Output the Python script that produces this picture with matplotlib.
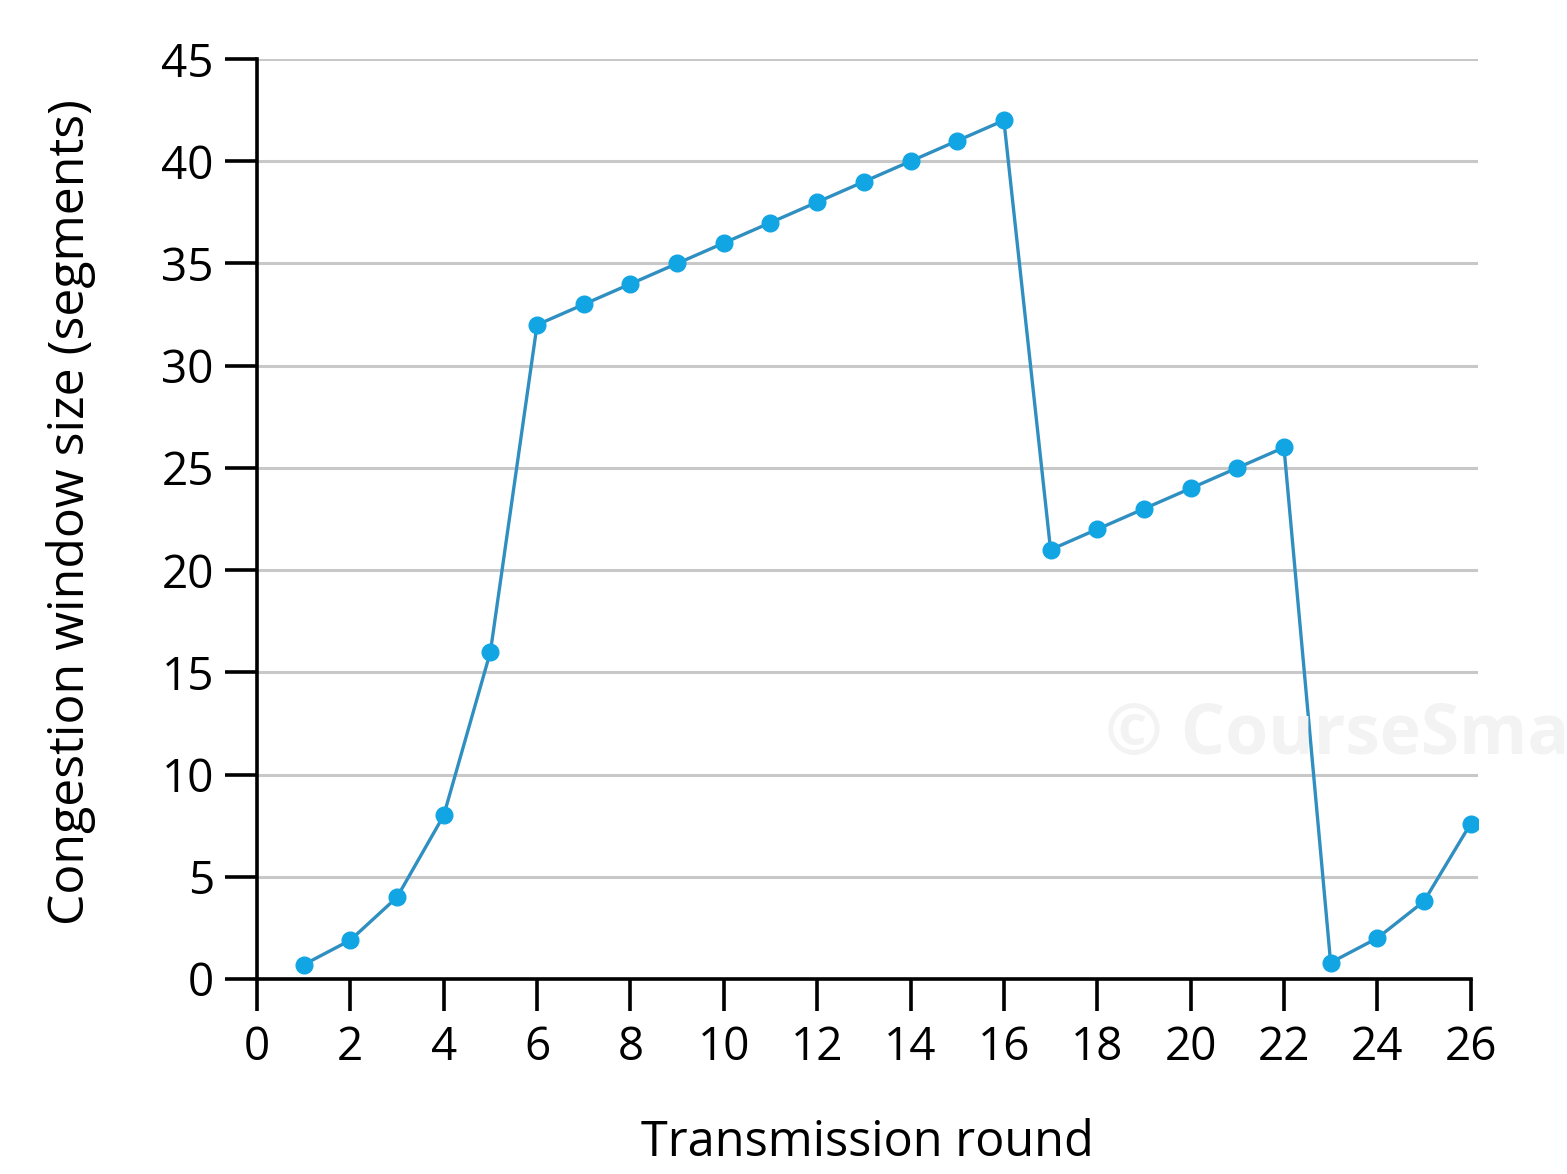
import matplotlib
matplotlib.use("Agg")
import matplotlib.pyplot as plt

# Données
rounds = list(range(1, 27))
cwnd = [0.7, 1.9, 4, 8, 16, 32, 33, 34, 35, 36, 37, 38, 39, 40, 41, 42,
        21, 22, 23, 24, 25, 26, 0.8, 2, 3.8, 7.6]

x_ticks = list(range(0, 27, 2))
y_ticks = list(range(0, 46, 5))

plt.rcParams["font.family"] = ["Open Sans", "DejaVu Sans"]

fig = plt.figure(figsize=(15.67, 11.74), dpi=100)
ax = fig.add_axes([0.164, 0.1661, 0.779, 0.7836])

# grille horizontale
for y in y_ticks[1:]:
    ax.axhline(y, color="#c8c8c8", lw=2.2, zorder=1)

ax.plot(rounds, cwnd, color="#2f8fc0", lw=2.4, zorder=3)
ax.plot(rounds, cwnd, "o", color="#12a5e3", ms=12, zorder=4)

ax.set_xlim(0, 26.15)
ax.set_ylim(0, 45)
ax.set_xticks(x_ticks)
ax.set_yticks(y_ticks)
ax.spines["top"].set_visible(False)
ax.spines["right"].set_visible(False)
ax.spines["bottom"].set_bounds(0, 26)
for s in ("left", "bottom"):
    ax.spines[s].set_linewidth(2.6)
    ax.spines[s].set_zorder(5)
ax.tick_params(length=23, width=2.6, labelsize=33, pad=8)
ax.tick_params(axis="x", pad=10)

ax.set_xlabel("Transmission round", fontsize=35, labelpad=34)
ax.set_ylabel("Congestion window size (segments)", fontsize=36)
ax.yaxis.set_label_coords(-0.132, 0.508)

# filigrane (coupé au bord droit comme dans l'original)
fig.text(0.705, 0.373, "© CourseSmart", fontsize=50, color="#f3f3f3",
         fontweight="bold", va="center", ha="left", zorder=0)

fig.savefig("out.png", dpi=100, facecolor="white")
